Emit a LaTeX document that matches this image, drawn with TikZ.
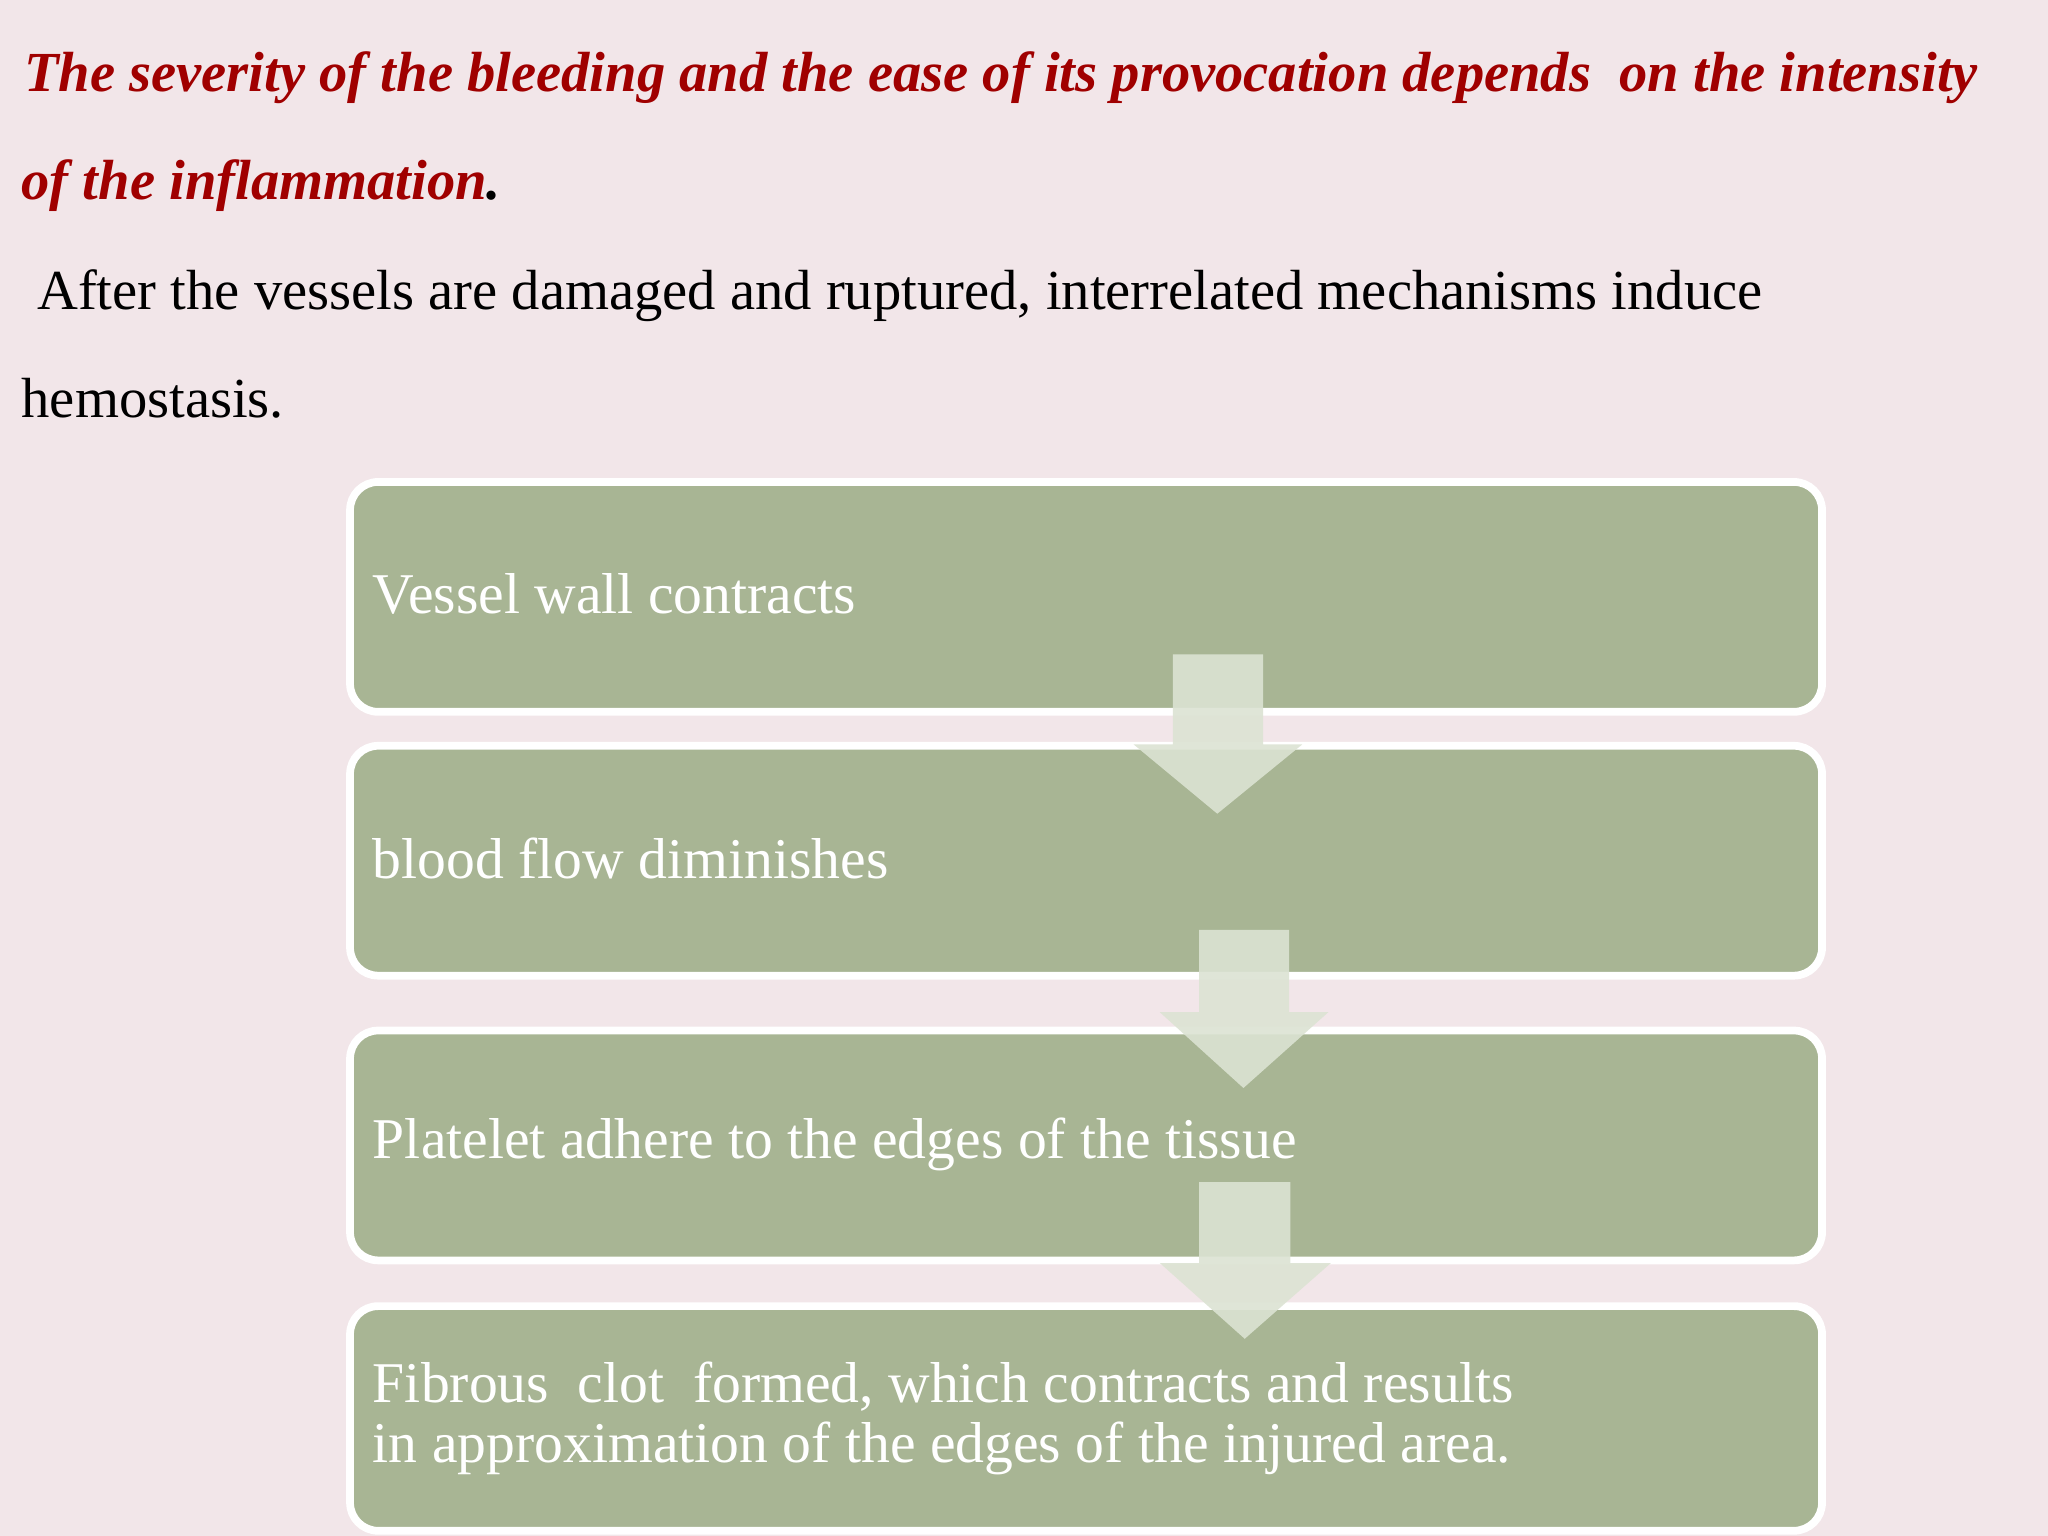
\documentclass[tikz,border=0pt]{standalone}
\usepackage{fontspec}
\setmainfont{Liberation Serif}
\definecolor{bg}{HTML}{F2E6E9}
\definecolor{boxc}{HTML}{A8B594}
\definecolor{arr}{HTML}{DCE3D3}
\definecolor{tred}{HTML}{A00000}
\begin{document}
\begin{tikzpicture}[x=0.01306cm,y=-0.01306cm,
  stepbox/.style={draw=white,line width=2.2pt,fill=boxc,rounded corners=8pt},
  lbl/.style={anchor=west,text=white,font=\fontsize{16.4}{17.2}\selectfont,align=left,inner sep=0pt},
  body/.style={anchor=base west,inner sep=0pt,font=\fontsize{16.1}{17}\selectfont},
  arrow/.style={fill=arr,fill opacity=0.9}]
\fill[bg] (0,0) rectangle (1568,1176);
\useasboundingbox (0,0) rectangle (1568,1176);
\node[body,text=tred,font=\fontsize{16.1}{17}\selectfont\bfseries\itshape] (t1) at (18,70) {The severity of the bleeding and the ease of its provocation depends\ \ on the intensity};
\node[body,text=tred,font=\fontsize{16.1}{17}\selectfont\bfseries\itshape] (t2) at (16,153) {of the inflammation\textcolor{black}{.}};
\node[body] (t3) at (28,237) {After the vessels are damaged and ruptured, interrelated mechanisms induce};
\node[body] (t4) at (16,320) {hemostasis.};
\draw[stepbox] (268,369) rectangle (1395,545);
\draw[stepbox] (268,571) rectangle (1395,747);
\draw[stepbox] (268,789) rectangle (1395,965);
\draw[stepbox] (268,1000) rectangle (1395,1172);
\fill[arrow] (898,501) -- (967,501) -- (967,570) -- (997,570) -- (932,623) -- (868,570) -- (898,570) -- cycle;
\fill[arrow] (918,712) -- (987,712) -- (987,775) -- (1017,775) -- (952,833) -- (888,775) -- (918,775) -- cycle;
\fill[arrow] (918,905) -- (988,905) -- (988,967) -- (1019,967) -- (953,1025) -- (888,967) -- (918,967) -- cycle;
\node[lbl] (b1) at (285,455) {Vessel wall contracts};
\node[lbl] (b2) at (285,657) {blood flow diminishes};
\node[lbl] (b3) at (285,876) {Platelet adhere to the edges of the tissue};
\node[lbl] (b4) at (285,1086) {Fibrous\ \ clot\ \ formed, which contracts and results\\in approximation of the edges of the injured area.};
\end{tikzpicture}
\end{document}
